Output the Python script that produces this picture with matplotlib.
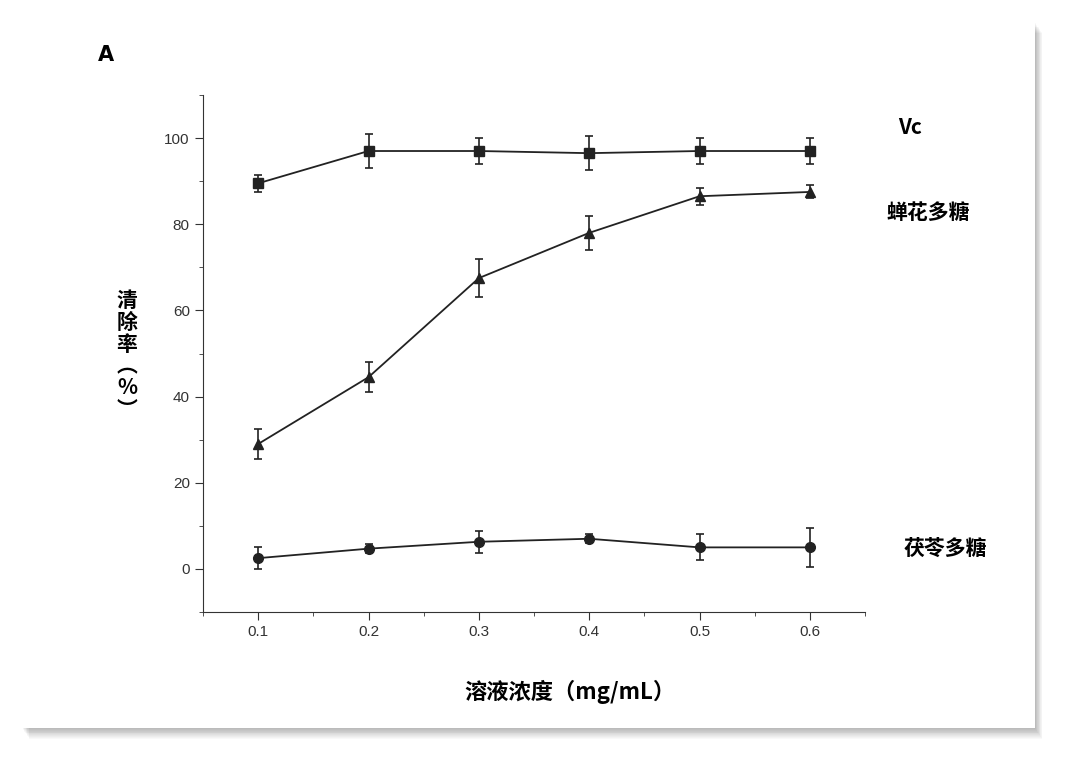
import matplotlib
matplotlib.use("Agg")
import matplotlib.pyplot as plt
from matplotlib.patches import Rectangle
from matplotlib.ticker import MultipleLocator

plt.rcParams['font.family'] = ['Noto Sans CJK SC', 'DejaVu Sans']

conc = [0.1, 0.2, 0.3, 0.4, 0.5, 0.6]
vc = [89.5, 97, 97, 96.5, 97, 97]
vc_err = [2, 4, 3, 4, 3, 3]
chanhua = [29, 44.5, 67.5, 78, 86.5, 87.5]
chanhua_err = [3.5, 3.5, 4.5, 4, 2, 1.5]
fuling = [2.5, 4.7, 6.3, 7, 5, 5]
fuling_err = [2.5, 1, 2.5, 1, 3, 4.5]

W, H = 1080, 773
fig = plt.figure(figsize=(W/100, H/100), dpi=100)
fig.patch.set_facecolor('white')
for i in range(12, 0, -1):
    fig.patches.append(Rectangle(((22+i*0.6)/W, (H-728-i*0.9)/H), (1013)/W, (706)/H,
                                 transform=fig.transFigure, facecolor='black', alpha=0.025, edgecolor='none', zorder=0))
fig.patches.append(Rectangle((22/W, (H-728)/H), 1013/W, 706/H, transform=fig.transFigure,
                             facecolor='white', edgecolor='none', zorder=1))

ax = fig.add_axes([203/W, (H-612)/H, (865-203)/W, (612-95)/H])
ax.set_zorder(2)
ax.patch.set_alpha(0)
kw = dict(color='#222222', lw=1.3, capsize=3, elinewidth=1.2, capthick=1.2, markersize=7)
ax.errorbar(conc, vc, yerr=vc_err, marker='s', **kw)
ax.errorbar(conc, chanhua, yerr=chanhua_err, marker='^', **kw)
ax.errorbar(conc, fuling, yerr=fuling_err, marker='o', **kw)

ax.set_xlim(0.05, 0.65)
ax.set_ylim(-10, 110)
ax.set_xticks(conc)
ax.set_yticks([0, 20, 40, 60, 80, 100])
ax.xaxis.set_minor_locator(MultipleLocator(0.05))
ax.yaxis.set_minor_locator(MultipleLocator(10))
ax.spines['top'].set_visible(False)
ax.spines['right'].set_visible(False)
for s in ['left', 'bottom']:
    ax.spines[s].set_color('#333333')
ax.tick_params(which='both', direction='out', colors='#333333', labelsize=11, labelcolor='#333333')
ax.tick_params(which='major', length=6)
ax.tick_params(which='minor', length=3)
for lab in ax.get_xticklabels() + ax.get_yticklabels():
    lab.set_family(['Liberation Sans'])

def ftext(x, y, s, **k):
    fig.text(x/W, 1-y/H, s, ha='center', va='center', fontweight='bold', **k)

ftext(106, 55, 'A', fontsize=15, family=['DejaVu Sans'])
ftext(910, 128, 'Vc', fontsize=15)
ftext(928, 212, '蝉花多糖', fontsize=15)
ftext(945, 548, '茯苓多糖', fontsize=15)
ftext(570, 692, '溶液浓度（mg/mL）', fontsize=16)
ftext(127, 355, '清\n除\n率\n︵\n%\n︶', fontsize=15, linespacing=1.05)

fig.savefig('out.png', dpi=100)
